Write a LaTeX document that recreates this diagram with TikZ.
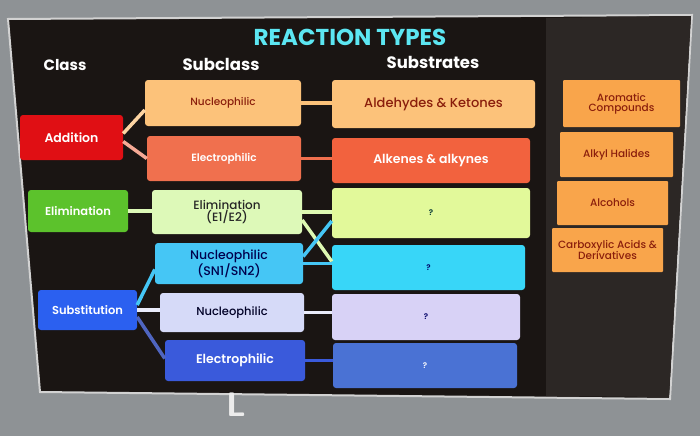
\documentclass[tikz,border=0pt]{standalone}
\usepackage{fontspec}
\setmainfont{Poppins}[UprightFont=* Medium,BoldFont=* Bold]
\newfontfamily\semibold{Poppins SemiBold}
\definecolor{bezel}{HTML}{8E9295}
\definecolor{screen}{HTML}{1A1513}
\definecolor{panel}{HTML}{2C2725}
\definecolor{titlecyan}{HTML}{5CE6F2}
\definecolor{addred}{HTML}{E00F14}
\definecolor{elimgreen}{HTML}{5CC22C}
\definecolor{subsblue}{HTML}{2B60F0}
\definecolor{nuorange}{HTML}{FCC27A}
\definecolor{elsalmon}{HTML}{F0704E}
\definecolor{elilight}{HTML}{DDF9B8}
\definecolor{snblue}{HTML}{45C6F5}
\definecolor{nulav}{HTML}{D6DAF8}
\definecolor{elblue}{HTML}{3A5ADB}
\definecolor{sredorange}{HTML}{F2623E}
\definecolor{slime}{HTML}{E2F99A}
\definecolor{scyan}{HTML}{38D6F8}
\definecolor{slav}{HTML}{D8D2F6}
\definecolor{sblue}{HTML}{4A72D4}
\definecolor{grouporange}{HTML}{F9A54B}
\definecolor{darkred}{HTML}{8A1E0C}
\begin{document}
\begin{tikzpicture}[x=1pt,y=-1pt,
  every node/.style={font=\fontsize{10}{11}\selectfont},
  box/.style={rounded corners=3pt,inner sep=0pt,align=center},
  groupbox/.style={box,rounded corners=1pt,fill=grouporange,text=darkred,
    font=\fontsize{10.5}{10}\selectfont},
  head/.style={text=white,font=\bfseries\fontsize{16.5}{18}\selectfont},
  qbox/.style={box,font=\semibold\fontsize{8}{9}\selectfont},
  link/.style={line width=3.5pt}]
% screen and bezel
\fill[bezel] (0,0) rectangle (700,436);
\filldraw[fill=screen,draw=white!65!gray,line width=2pt]
  (8,19) -- (692,15) -- (670,399) -- (40,392) -- cycle;
\fill[panel] (546,18) -- (691,16) -- (669,397) -- (546,396) -- cycle;
\node[text=white!85!gray,font=\sffamily\bfseries\fontsize{34}{34}\selectfont] (lbl) at (236,405) {L};

\node[text=titlecyan,font=\bfseries\fontsize{23}{25}\selectfont] (title) at (350,37) {REACTION TYPES};
\node[head,font=\bfseries\fontsize{15}{17}\selectfont] (hclass) at (65,65) {Class};
\node[head] (hsub) at (221,64) {Subclass};
\node[head] (hsubst) at (433,62) {Substrates};

% class
\node[box,fill=addred,text=white,minimum width=103pt,minimum height=45pt,
  font=\semibold\fontsize{12.5}{14}\selectfont] (add) at (71.5,137.5) {Addition};
\node[box,fill=elimgreen,text=white,minimum width=100pt,minimum height=42pt,
  font=\semibold\fontsize{11.5}{13}\selectfont] (elim) at (78,211) {Elimination};
\node[box,fill=subsblue,text=white,minimum width=99pt,minimum height=40pt,
  font=\semibold\fontsize{11.5}{13}\selectfont] (subs) at (87.5,310) {Substitution};

% subclass
\node[box,fill=nuorange,text=darkred,minimum width=156pt,minimum height=46pt,
  font=\fontsize{10.5}{12}\selectfont] (nu1) at (223,103) {Nucleophilic};
\node[box,fill=elsalmon,text=white,minimum width=154pt,minimum height=45pt,
  font=\semibold\fontsize{10.5}{12}\selectfont] (el1) at (224,158.5) {Electrophilic};
\node[box,fill=elilight,text=black!85,minimum width=150pt,minimum height=44pt,
  font=\fontsize{12}{12}\selectfont] (eli) at (227,212) {Elimination\\(E1/E2)};
\node[box,fill=snblue,text=blue!30!black,minimum width=148pt,minimum height=41pt,
  font=\fontsize{12.5}{12}\selectfont] (sn) at (229,263.5) {Nucleophilic\\(SN1/SN2)};
\node[box,fill=nulav,text=blue!15!black,minimum width=144pt,minimum height=39pt,
  font=\fontsize{11.5}{13}\selectfont] (nu2) at (232,312.5) {Nucleophilic};
\node[box,fill=elblue,text=white,minimum width=140pt,minimum height=41pt,
  font=\semibold\fontsize{12.5}{14}\selectfont] (el2) at (235,360.5) {Electrophilic};

% substrates
\node[box,fill=nuorange,text=darkred,minimum width=203pt,minimum height=48pt,
  font=\fontsize{13}{14}\selectfont] (s1) at (433.5,104) {Aldehydes \& Ketones};
\node[box,fill=sredorange,text=white,minimum width=198pt,minimum height=45pt,
  font=\semibold\fontsize{12.5}{14}\selectfont] (s2) at (431,160.5) {Alkenes \& alkynes};
\node[qbox,fill=slime,text=teal!40!black,minimum width=198pt,minimum height=50pt] (s3) at (431,213) {?};
\node[qbox,fill=scyan,text=blue!40!black,minimum width=193pt,minimum height=45pt] (s4) at (428.5,267.5) {?};
\node[qbox,fill=slav,text=blue!40!black,minimum width=188pt,minimum height=46pt] (s5) at (426,317) {?};
\node[qbox,fill=sblue,text=white,minimum width=184pt,minimum height=45pt] (s6) at (425,365.5) {?};

% groups
\node[groupbox,minimum width=117pt,minimum height=47pt] (arom) at (621.5,103.5) {Aromatic\\Compounds};
\node[groupbox,minimum width=113pt,minimum height=45pt] (halide) at (616.5,154.5) {Alkyl Halides};
\node[groupbox,minimum width=111pt,minimum height=44pt] (alc) at (612.5,203) {Alcohols};
\node[groupbox,minimum width=111pt,minimum height=44pt] (acid) at (607.5,250) {Carboxylic Acids \&\\Derivatives};

% class to subclass
\draw[link,draw=nuorange!70!white] ([yshift=4pt]add.east) -- ([yshift=-7pt]nu1.west);
\draw[link,draw=elsalmon!60!white] ([yshift=-4pt]add.east) -- (el1.west);
\draw[link,draw=elilight] (elim.east) -- (elim.east -| eli.west);
\draw[link,draw=snblue] ([yshift=5pt]subs.east) -- ([yshift=-6pt]sn.west);
\draw[link,draw=nulav!50!white] (subs.east) -- (subs.east -| nu2.west);
\draw[link,draw=elblue!70!gray] ([yshift=-7pt]subs.east) -- ([yshift=2pt]el2.west);

% subclass to substrates
\draw[link,draw=nuorange] (nu1.east) -- (nu1.east -| s1.west);
\draw[link,draw=elsalmon] (el1.east) -- (el1.east -| s2.west);
\draw[link,draw=elilight!80!slime] (eli.east) -- (eli.east -| s3.west);
\draw[link,draw=elilight!80!slime] ([yshift=-8pt]eli.east) -- ([yshift=6pt]s4.west);
\draw[link,draw=snblue] (sn.east) -- (sn.east -| s4.west);
\draw[link,draw=snblue] ([yshift=7pt]sn.east) -- ([yshift=-8pt]s3.west);
\draw[link,draw=nulav!50!white] (nu2.east) -- (nu2.east -| s5.west);
\draw[link,draw=elblue] (el2.east) -- (el2.east -| s6.west);
\end{tikzpicture}
\end{document}
